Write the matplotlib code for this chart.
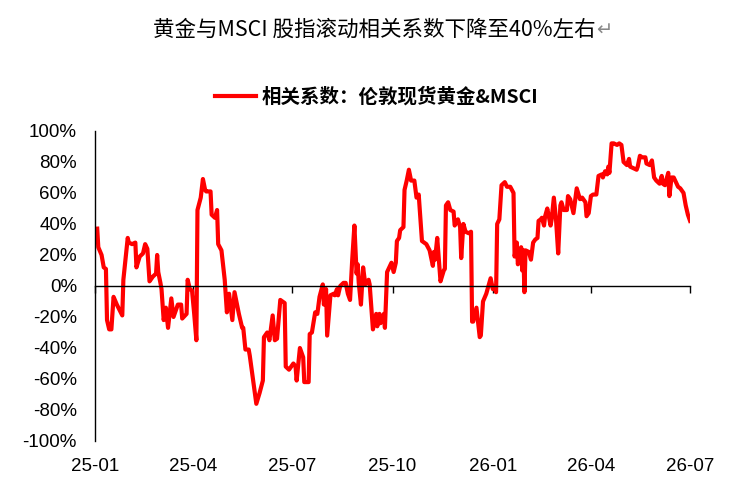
import numpy as np
import pandas as pd
import matplotlib
matplotlib.use('Agg')
import matplotlib.pyplot as plt
import matplotlib.dates as mdates
from matplotlib.ticker import FuncFormatter

# day offset from 2025-01-01, rolling correlation in %
days = [2, 3, 6, 8, 10, 11, 13, 15, 17, 20, 25, 26, 30, 31, 34, 37, 38, 41, 44, 46,
        48, 50, 53, 56, 57, 58, 60, 61, 63, 65, 67, 70, 72, 76, 79, 80, 84, 85, 87, 89,
        91, 93, 94, 97, 99, 101, 102, 106, 107, 110, 112, 113, 116, 119, 121, 123, 126, 128, 132, 135,
        136, 138, 141, 142, 148, 151, 154, 155, 158, 160, 163, 165, 167, 170, 174, 175, 178, 182, 184, 185,
        188, 191, 192, 196, 197, 199, 202, 204, 206, 209, 210, 212, 213, 216, 219, 220, 222, 223, 225, 228,
        230, 232, 234, 236, 238, 240, 241, 242, 244, 246, 248, 251, 252, 255, 258, 259, 261, 262, 265, 266,
        268, 272, 274, 276, 277, 279, 280, 283, 284, 286, 288, 290, 293, 295, 297, 300, 304, 307, 310, 311,
        312, 314, 317, 320, 321, 322, 324, 326, 329, 330, 333, 335, 336, 338, 340, 343, 345, 346, 347, 350,
        353, 354, 356, 359, 363, 365, 366, 368, 369, 371, 373, 376, 378, 381, 384, 385, 387, 388, 391, 392,
        393, 394, 395, 398, 400, 402, 404, 406, 407, 409, 410, 412, 413, 415, 418, 419, 421, 423, 425, 427,
        428, 430, 433, 434, 436, 439, 442, 445, 447, 450, 451, 453, 455, 457, 460, 462, 465, 466, 468, 470,
        471, 472, 474, 476, 479, 481, 483, 485, 488, 490, 491, 494, 497, 498, 500, 502, 505, 506, 509, 511,
        513, 515, 518, 520, 521, 523, 524, 526, 527, 529, 531, 535, 537, 540, 542, 544, 546]
corr = [37, 25, 20, 12, 11, -22, -28, -28, -7, -12, -19, 4, 31, 28, 27, 28, 12, 19, 21, 27,
        24, 3, 6, 8, 20, 9, 2, -2, -22, -14, -27, -8, -20, -12, -12, -21, -18, 4, -2, -3,
        -18, -35, 49, 57, 69, 62, 61, 61, 46, 44, 49, 27, 23, 4, -17, -5, -22, -4, -18, -27,
        -27, -41, -41, -45, -76, -69, -61, -33, -30, -35, -19, -35, -34, -9, -11, -52, -54, -50, -52, -61,
        -40, -46, -62, -62, -31, -30, -17, -18, -7, 1, -12, -2, -32, -6, -5, -6, -2, -6, 0, 2,
        2, -5, -9, 17, 39, 8, 14, 2, -12, 12, 1, 4, 1, -28, -18, -26, -18, -24, -18, -27,
        9, 15, 9, 15, 29, 31, 36, 38, 62, 68, 75, 68, 68, 57, 59, 29, 27, 23, 13, 22,
        17, 31, 3, 10, 11, 52, 54, 49, 48, 39, 43, 38, 18, 40, 35, 34, 35, -23, -23, -14,
        -33, -32, -10, -5, 5, -2, 0, -4, 40, 43, 65, 67, 64, 64, 60, 19, 28, 14, 25, 10,
        23, -4, 23, 22, 17, 28, 30, 31, 42, 43, 44, 39, 45, 50, 39, 43, 57, 43, 21, 52,
        54, 49, 49, 58, 56, 47, 63, 56, 57, 54, 45, 47, 58, 59, 59, 71, 72, 70, 74, 72,
        77, 73, 92, 92, 91, 92, 91, 80, 78, 82, 77, 76, 75, 77, 84, 83, 83, 79, 78, 81,
        70, 68, 66, 71, 66, 65, 68, 73, 58, 70, 70, 64, 63, 60, 52, 46, 42]

title = '黄金与MSCI 股指滚动相关系数下降至40%左右'
series_name = '相关系数：伦敦现货黄金&MSCI'

dates = pd.Timestamp('2025-01-01') + pd.to_timedelta(days, unit='D')
vals = np.array(corr) / 100.0

cjk = ['Noto Sans CJK SC', 'DejaVu Sans']
plt.rcParams['font.family'] = ['Liberation Sans', 'DejaVu Sans']

fig = plt.figure(figsize=(7.31, 4.86), dpi=100)
ax = fig.add_axes([0.130, 0.0926, 0.814, 0.6379])

ax.plot(dates, vals, color='#ff0000', lw=3.0, label=series_name)

ax.set_xlim(pd.Timestamp('2025-01-01'), pd.Timestamp('2026-07-01'))
ax.set_ylim(-1, 1)
ax.set_yticks(np.arange(-1, 1.01, 0.2))
ax.yaxis.set_major_formatter(FuncFormatter(lambda v, p: '%d%%' % round(v * 100)))
ax.xaxis.set_major_locator(mdates.MonthLocator(bymonth=[1, 4, 7, 10]))
ax.xaxis.set_major_formatter(mdates.DateFormatter('%y-%m'))

ax.spines['top'].set_visible(False)
ax.spines['right'].set_visible(False)
ax.spines['bottom'].set_position(('data', 0))
ax.spines['left'].set_linewidth(1.0)
ax.spines['bottom'].set_linewidth(1.0)
ax.tick_params(axis='y', length=0, pad=13, labelsize=13.5)
ax.tick_params(axis='x', direction='out', length=5, width=1, pad=119, labelsize=13.5)

t = fig.text(0.512, 0.938, title, ha='center', va='center', fontsize=15.5, family=cjk)
ax.annotate('↵', xy=(1, 0.5), xycoords=t, ha='left', va='center',
            fontsize=14, color='#888888', family=cjk)

leg = ax.legend(loc='center', bbox_to_anchor=(0.515, 0.80), bbox_transform=fig.transFigure,
                frameon=False, handlelength=2.1, handletextpad=0.3,
                prop={'family': cjk, 'weight': 'bold', 'size': 14})

fig.savefig('out.png', dpi=100)
